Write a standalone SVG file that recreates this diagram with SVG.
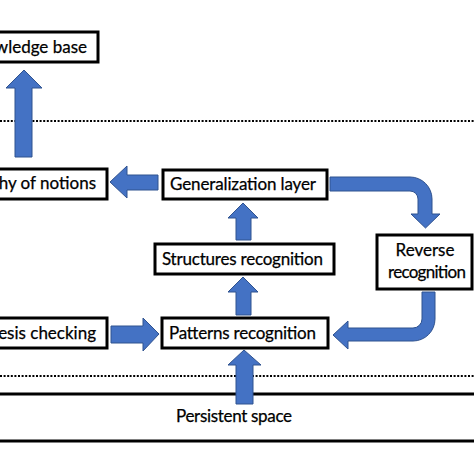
<svg xmlns="http://www.w3.org/2000/svg" width="474" height="474" viewBox="0 0 474 474">
<style>
.box{fill:#fff;stroke:#000;stroke-width:3}
.arr{fill:#4472C4;stroke:#2F528F;stroke-width:1}
.dot{stroke:#000;stroke-width:2;stroke-dasharray:2 1.6;fill:none}
.t{font-family:Lato,"Open Sans",sans-serif;font-size:17px;fill:#000;stroke:#000;stroke-width:0.25}
</style>
<rect width="474" height="474" fill="#fff"/>
<g id="layers">
<line class="dot" x1="0" y1="121" x2="474" y2="121"/>
<line class="dot" x1="0" y1="376" x2="474" y2="376"/>
</g>
<g id="persistent">
<rect class="box" x="-10" y="394" width="494" height="47"/>
<text class="t" x="176" y="422" textLength="116">Persistent space</text>
</g>
<g id="knowledge">
<rect class="box" x="-10" y="32" width="108" height="30"/>
<text class="t" x="87" y="53" text-anchor="end">Knowledge base</text>
</g>
<g id="hierarchy">
<rect class="box" x="-10" y="169" width="117" height="30"/>
<text class="t" x="96" y="189" text-anchor="end">Hierarchy of notions</text>
</g>
<g id="generalization">
<rect class="box" x="163" y="170" width="164" height="29"/>
<text class="t" x="170" y="190" textLength="146">Generalization layer</text>
</g>
<g id="structures">
<rect class="box" x="155" y="244" width="179" height="30"/>
<text class="t" x="162" y="265" textLength="161">Structures recognition</text>
</g>
<g id="reverse">
<rect class="box" x="377" y="235" width="95" height="54"/>
<text class="t" x="425" y="256" text-anchor="middle">Reverse</text>
<text class="t" x="388" y="278" textLength="78">recognition</text>
</g>
<g id="hypothesis">
<rect class="box" x="-10" y="318" width="117" height="30"/>
<text class="t" x="96" y="339" text-anchor="end">Hypothesis checking</text>
</g>
<g id="patterns">
<rect class="box" x="162" y="318" width="166" height="30"/>
<text class="t" x="169" y="339" textLength="147">Patterns recognition</text>
</g>
<g id="connectors">
<polygon class="arr" points="24,70 42,88 32,88 32,157 15,157 15,88 6,88"/>
<polygon class="arr" points="110,182 127,166 127,175 158,175 158,190 127,190 127,198"/>
<polygon class="arr" points="243,203 258,218 251,218 251,240 236,240 236,218 228,218"/>
<polygon class="arr" points="243,277 258,292 251,292 251,315 236,315 236,292 228,292"/>
<polygon class="arr" points="244,350 261,365 253,365 253,404 236,404 236,365 228,365"/>
<polygon class="arr" points="111,326 143,326 143,318 159,334 143,351 143,343 111,343"/>
<path class="arr" d="M330,177 H410 A22,22 0 0 1 432,199 V214 H440 L425.5,228 L411,214 H418 V199 A8,8 0 0 0 410,191 H330 Z"/>
<path class="arr" d="M422,292 H435 V319 A22,22 0 0 1 413,341 H348 V349 L333,335 L348,321 V328 H413 A9,9 0 0 0 422,319 Z"/>
</g>
</svg>
